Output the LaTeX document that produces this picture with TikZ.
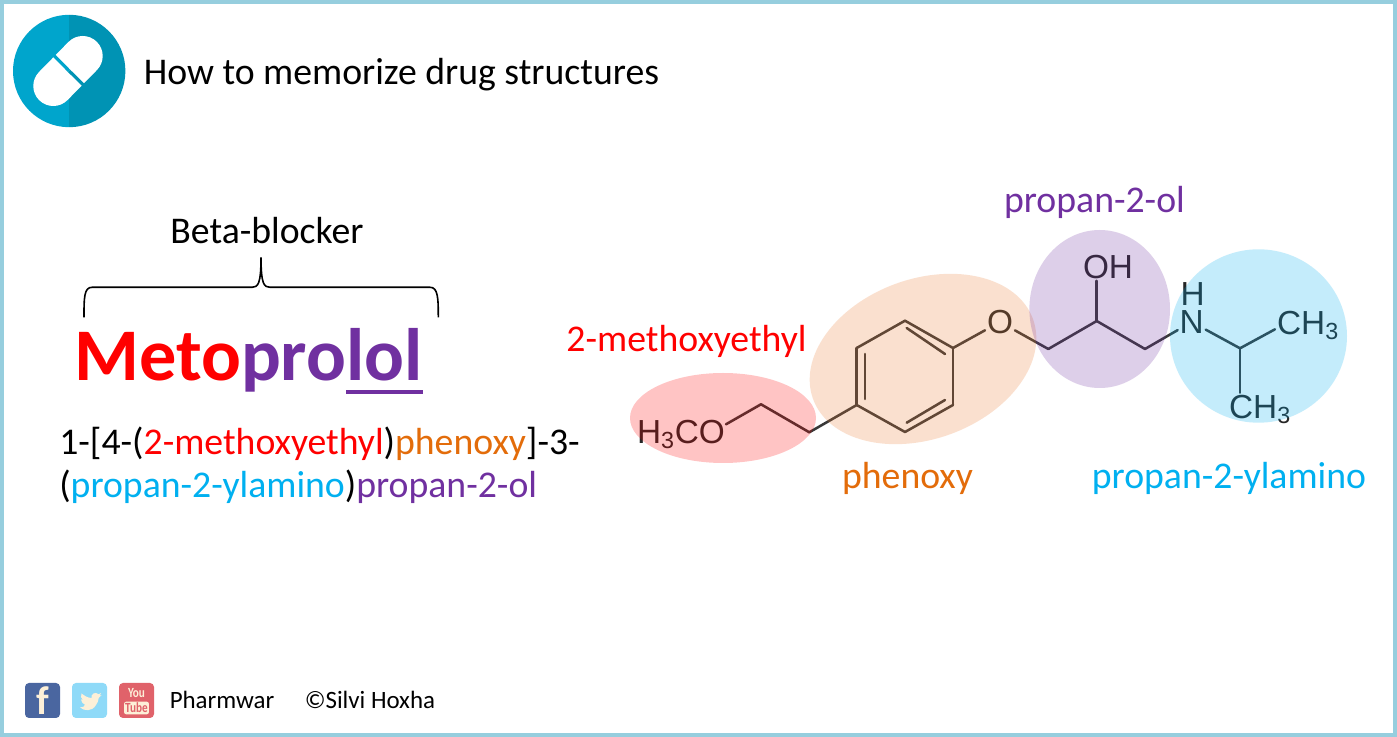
\documentclass[tikz,border=0pt]{standalone}
\usepackage{fontspec}
\setmainfont{Carlito}
\newfontfamily\molfont{Liberation Sans}
\usetikzlibrary{positioning}
\definecolor{framecol}{HTML}{96CEDE}
\definecolor{pillA}{HTML}{00A5CC}
\definecolor{pillB}{HTML}{0093B4}
\definecolor{redtxt}{HTML}{FF0000}
\definecolor{purpletxt}{HTML}{7030A0}
\definecolor{orangetxt}{HTML}{E36C0A}
\definecolor{orangeblob}{HTML}{ED7D31}
\definecolor{bluetxt}{HTML}{00B0F0}
\definecolor{cream}{HTML}{FDF0D8}
\definecolor{fbcol}{HTML}{4A66A0}
\definecolor{twcol}{HTML}{8FDAF8}
\definecolor{ytcol}{HTML}{E0626A}
\newcommand{\ulword}[1]{\setbox0\hbox{#1}\rlap{\rule[-10pt]{\wd0}{3.2pt}}\box0}
\begin{document}
\begin{tikzpicture}[x=0.75pt, y=-0.75pt,
  label text/.style={font=\fontsize{28.3}{32}\selectfont, inner sep=0pt},
  atom/.style={font=\molfont\fontsize{25}{28}\selectfont, text=black!85, inner sep=0pt, outer sep=1.5pt},
  bond/.style={draw=black!78, line width=1.9pt, line cap=round},
  blob/.style={fill opacity=0.23, draw=none},
  social/.style={rounded corners=3pt, minimum size=26.25pt, inner sep=0pt, text=cream}]
\useasboundingbox (0,0) rectangle (1397,737);
\fill[white] (0,0) rectangle (1397,737);
\draw[framecol, line width=3pt] (2,2) rectangle (1395,735);
% Logo
\fill[pillA] (69.2,14.8) arc (270:90:56.2) -- cycle;
\fill[pillB] (69.2,14.8) arc (-90:90:56.2) -- cycle;
\draw[white, line width=30pt, line cap=round] (53.3,86) -- (82.7,56);
\draw[pillA, line width=2.4pt] (54,55.5) -- (69.2,71);
\draw[pillB, line width=2.4pt] (69.2,71) -- (85,86.5);
\node[anchor=base west, inner sep=0pt, font=\fontsize{28.3}{32}\selectfont] (title) at (143.5,84.5) {How to memorize drug structures};
% Name
\node[label text] (classname) at (267,231) {Beta-blocker};
\coordinate (bl) at (84,317.3);
\coordinate (br) at (438.3,317.3);
\coordinate (btip) at (261,257.3);
\draw[line width=1.2pt] (bl) .. controls (84,298) and (84,287.3) .. (92,287.3) -- (252,287.3)
  .. controls (258,287.3) and (261,284) .. (btip) .. controls (261,284) and (264,287.3) .. (270,287.3)
  -- (430,287.3) .. controls (438,287.3) and (438.3,298) .. (br);
\node[anchor=base west, inner sep=0pt, font=\bfseries\fontsize{55.7}{60}\selectfont] (drug) at (74,380.5)
  {\textcolor{redtxt}{Meto}\textcolor{purpletxt}{pro\ulword{lol}}};
\node[label text, anchor=base west] (iupac1) at (59,455)
  {1-[4-(\textcolor{redtxt}{2-methoxyethyl})\textcolor{orangetxt}{phenoxy}]-3-};
\node[label text, anchor=base west] (iupac2) at (59,497.5)
  {(\textcolor{bluetxt}{propan-2-ylamino})\textcolor{purpletxt}{propan-2-ol}};
% Molecule
\foreach \name/\px/\py in {c0/726/424.3,c1/809.3/432.3,c2/761/404.3,r1/856.7/405,r2/856.7/348,r3/905/320.7,r4/953/348,r5/953/405,r6/905/432,
  c3/1048.3/349,c4/1096.7/321,c5/1145/349,c6/1240/348.3,c7/1275/329.3,
  d1/906.7/328,d2/945/354,d3/865/354,d4/865/399,d5/945/400,d6/906.7/422.7} {
  \coordinate (\name) at (\px,\py);
}
\node[atom] (methoxy) at (681,434) {H\textsubscript{3}CO};
\node[atom] (ether) at (1000,322) {O};
\node[atom] (hydroxy) at (1108,267) {OH};
\node[atom] (amine) at (1191.7,322) {N};
\node[atom] (amineh) at (1192.7,294) {H};
\node[atom] (methyla) at (1308,325) {CH\textsubscript{3}};
\node[atom] (methylb) at (1260,409) {CH\textsubscript{3}};
\foreach \from/\to in {c0/c2,c2/c1,c1/r1,r1/r2,r2/r3,r3/r4,r4/r5,r5/r6,r6/r1,d1/d2,d3/d4,d5/d6,
  r4/ether,ether/c3,c3/c4,c4/c5,c5/amine,amine/c6,c6/c7} {
  \draw[bond] (\from) -- (\to);
}
\draw[bond] (c4) -- (c4 |- hydroxy.south);
\draw[bond] (c6) -- (c6 |- methylb.north);
% Groups
\fill[redtxt, blob] (723,418) ellipse (93 and 45);
\fill[orangeblob, blob] (923,359) [rotate around={20:(923,359)}] ellipse (117 and 80);
\fill[purpletxt, blob] (1099.7,309) ellipse (70.3 and 79);
\fill[bluetxt, blob] (1258.5,336) ellipse (88.5 and 86.7);
\node[label text, text=redtxt] (labelmethoxy) at (686.5,341.5) {2-methoxyethyl};
\node[label text, text=orangetxt] (labelphenoxy) at (907.5,478.5) {phenoxy};
\node[label text, text=purpletxt] (labelol) at (1094.5,202) {propan-2-ol};
\node[label text, text=bluetxt] (labelamino) at (1229,478.5) {propan-2-ylamino};
% Footer
\node[social, fill=fbcol, font=\bfseries\fontsize{30}{30}\selectfont] (fb) at (42.5,700.5) {f};
\node[social, fill=twcol] (tw) at (89.5,700.5) {};
\fill[cream] (80,707.5) .. controls (84,711) and (92,712) .. (96,705) .. controls (98,702) and (98.5,700) .. (98.7,698)
  .. controls (100,697) and (101,696.5) .. (101.7,695) -- (99.5,695.6) .. controls (100.5,695) and (101,694) .. (101.2,693)
  -- (98.7,694.2) .. controls (95,691) and (90.5,694.5) .. (91.5,698) .. controls (87,697.7) and (84,695.5) .. (81.5,693.5)
  .. controls (80.3,696) and (81,698.5) .. (83,700) -- (81,699.4) .. controls (81.3,702) and (83,704) .. (85,704.8)
  .. controls (84.5,706.3) and (83,707.5) .. (80,707.5) -- cycle;
\node[social, fill=ytcol] (yt) at (136.5,700.5) {};
\node[inner sep=0pt, text=cream, font=\bfseries\fontsize{10.5}{11}\selectfont, xscale=.8] (ytyou) at (136.5,693) {You};
\node[inner sep=1pt, fill=cream, rounded corners=1.5pt, text=ytcol, font=\bfseries\fontsize{10.5}{11}\selectfont, xscale=.8] (yttube) at (136.5,708) {Tube};
\node[anchor=base west, inner sep=0pt, font=\fontsize{18.7}{22}\selectfont] (brand) at (169.5,709) {Pharmwar};
\node[anchor=base west, inner sep=0pt, font=\fontsize{18.7}{22}\selectfont] (credit) at (304.5,709) {©Silvi Hoxha};
\end{tikzpicture}
\end{document}
